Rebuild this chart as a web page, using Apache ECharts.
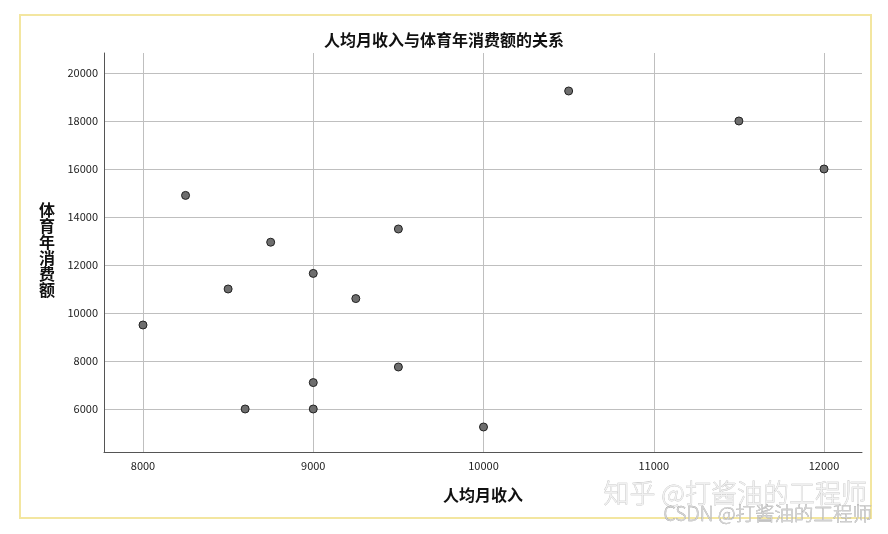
<!DOCTYPE html>
<html>
<head>
<meta charset="utf-8">
<script src="https://cdn.jsdelivr.net/npm/echarts@6/dist/echarts.min.js"></script>
<style>
html,body{margin:0;padding:0;background:#fff;}
#chart{width:888px;height:534px;}
</style>
</head>
<body>
<div id="chart"></div>
<script>
var titleText = '人均月收入与体育年消费额的关系';
var xName = '人均月收入';
var yName = '体育年消费额';
var income = [8000, 8250, 8500, 8600, 8750, 9000, 9000, 9000, 9250, 9500, 9500, 10000, 10500, 11500, 12000];
var spending = [9500, 14900, 11000, 6000, 12950, 11650, 7100, 6000, 10600, 13500, 7750, 5250, 19250, 18000, 16000];
var watermark1 = '知乎 @打酱油的工程师';
var watermark2 = 'CSDN @打酱油的工程师';

var points = income.map(function (v, i) { return [v, spending[i]]; });
var cjk = '"Noto Sans CJK SC", "Noto Sans", sans-serif';

var chart = echarts.init(document.getElementById('chart'));
chart.setOption({
  backgroundColor: '#ffffff',
  animation: false,
  title: {
    text: titleText,
    left: 'center',
    top: 27,
    textStyle: { fontFamily: cjk, fontSize: 16, fontWeight: 'bold', color: '#111' }
  },
  grid: { left: 104, right: 26, top: 53, bottom: 82 },
  xAxis: {
    type: 'value',
    min: 7771, max: 12223,
    minInterval: 1000, maxInterval: 1000,
    name: xName,
    nameLocation: 'middle',
    nameGap: 35,
    nameTextStyle: { fontFamily: cjk, fontSize: 16, fontWeight: 'bold', color: '#111' },
    axisLine: { show: true, onZero: false, lineStyle: { color: '#555', width: 1 } },
    axisTick: { show: false },
    axisLabel: {
      color: '#222', fontSize: 11, fontFamily: cjk, margin: 8,
      showMinLabel: false, showMaxLabel: false,
      formatter: function (v) { return v % 1000 === 0 ? String(v) : ''; }
    },
    splitLine: { show: true, showMinLine: false, showMaxLine: false, lineStyle: { color: '#bfbfbf', width: 1 } }
  },
  yAxis: {
    type: 'value',
    min: 4208, max: 20833,
    minInterval: 2000, maxInterval: 2000,
    axisLine: { show: true, onZero: false, lineStyle: { color: '#555', width: 1 } },
    axisTick: { show: false },
    axisLabel: {
      color: '#222', fontSize: 11, fontFamily: cjk, margin: 6,
      showMinLabel: false, showMaxLabel: false,
      formatter: function (v) { return v % 2000 === 0 ? String(v) : ''; }
    },
    splitLine: { show: true, showMinLine: false, showMaxLine: false, lineStyle: { color: '#bfbfbf', width: 1 } }
  },
  graphic: [
    {
      type: 'rect', silent: true, z: -1,
      shape: { x: 20, y: 15, width: 851, height: 503 },
      style: { fill: 'none', stroke: '#f3e6a0', lineWidth: 2 }
    },
    {
      type: 'text', silent: true,
      x: 47, y: 250,
      style: {
        text: yName.split('').join('\n'),
        fontFamily: cjk, fontSize: 16, fontWeight: 'bold', lineHeight: 16,
        fill: '#111', align: 'center', verticalAlign: 'middle'
      }
    },
    {
      type: 'text', silent: true, z: 100,
      x: 867, y: 493,
      style: {
        text: watermark1,
        fontFamily: cjk, fontSize: 26, fontWeight: 300, fill: '#f0f0f0', stroke: '#bdbdbd', lineWidth: 0.6,
        align: 'right', verticalAlign: 'middle'
      }
    },
    {
      type: 'text', silent: true, z: 101,
      x: 872, y: 514,
      style: {
        text: watermark2,
        fontFamily: cjk, fontSize: 19.5, fontWeight: 300, fill: '#d2d2d2', stroke: '#8c8c8c', lineWidth: 0.4,
        align: 'right', verticalAlign: 'middle'
      }
    }
  ],
  series: [{
    type: 'scatter',
    data: points,
    symbol: 'circle',
    symbolSize: 8,
    itemStyle: { color: '#6e6e6e', borderColor: '#222', borderWidth: 1, opacity: 1 }
  }]
});
</script>
</body>
</html>
